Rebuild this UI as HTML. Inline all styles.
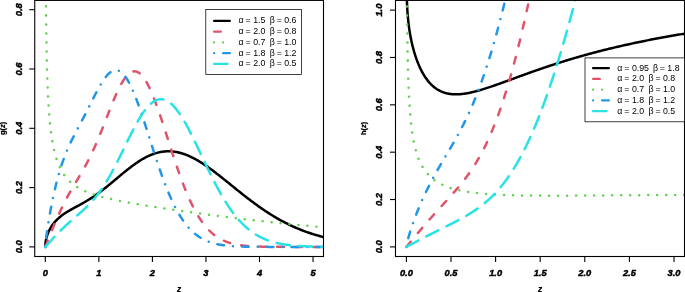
<!DOCTYPE html>
<html><head><meta charset="utf-8"><title>g(z) and h(z)</title>
<style>html,body{margin:0;padding:0;background:#fff}svg{display:block}</style></head>
<body>
<svg width="685" height="292" viewBox="0 0 685 292">
<defs><clipPath id="cl"><rect x="34.75" y="0.4" width="288.75" height="256.1"/></clipPath><clipPath id="cr"><rect x="395.5" y="0.4" width="289.0" height="256.1"/></clipPath></defs>
<rect width="685" height="292" fill="#fff"/>
<g clip-path="url(#cl)">
<path d="M45.30 246.90L45.30 246.54L45.31 246.18L45.32 245.82L45.33 245.47L45.35 245.11L45.37 244.75L45.39 244.39L45.42 244.03L45.45 243.67L45.48 243.31L45.52 242.96L45.56 242.60L45.61 242.24L45.66 241.88L45.71 241.52L45.76 241.16L45.82 240.81L45.89 240.45L45.96 240.09L46.03 239.73L46.10 239.38L46.18 239.02L46.26 238.66L46.35 238.31L46.44 237.95L46.53 237.59L46.62 237.24L46.72 236.88L46.83 236.53L46.93 236.17L47.05 235.82L47.16 235.47L47.28 235.11L47.40 234.76L47.53 234.41L47.65 234.06L47.79 233.71L47.92 233.36L48.06 233.01L48.21 232.66L48.35 232.31L48.50 231.97L48.66 231.62L48.82 231.28L48.98 230.93L49.14 230.59L49.31 230.25L49.48 229.90L49.66 229.56L49.84 229.22L50.02 228.89L50.21 228.55L50.40 228.21L50.60 227.88L50.79 227.55L51.00 227.22L51.20 226.88L51.41 226.56L51.62 226.23L51.84 225.90L52.06 225.58L52.28 225.25L52.51 224.93L52.74 224.61L52.97 224.29L53.21 223.98L53.45 223.66L53.70 223.35L53.95 223.04L54.20 222.73L54.46 222.42L54.72 222.11L54.98 221.81L55.25 221.51L55.52 221.21L55.79 220.91L56.07 220.61L56.35 220.32L56.64 220.02L56.92 219.73L57.22 219.44L57.51 219.16L57.81 218.87L58.12 218.59L58.42 218.30L58.73 218.03L59.05 217.75L59.37 217.47L59.69 217.20L60.01 216.93L60.34 216.65L60.67 216.39L61.01 216.12L61.35 215.85L61.69 215.59L62.04 215.33L62.39 215.07L62.74 214.81L63.10 214.55L63.46 214.30L63.83 214.04L64.20 213.79L64.57 213.54L64.95 213.29L65.33 213.04L65.71 212.79L66.10 212.54L66.49 212.30L66.88 212.05L67.28 211.81L67.68 211.56L68.08 211.32L68.49 211.08L68.91 210.84L69.32 210.59L69.74 210.35L70.16 210.11L70.59 209.87L71.02 209.62L71.46 209.38L71.89 209.14L72.34 208.89L72.78 208.65L73.23 208.40L73.68 208.16L74.14 207.91L74.60 207.66L75.06 207.41L75.53 207.16L76.00 206.90L76.47 206.65L76.95 206.39L77.43 206.13L77.91 205.87L78.40 205.60L78.90 205.34L79.39 205.07L79.89 204.79L80.39 204.52L80.90 204.24L81.41 203.95L81.93 203.67L82.44 203.37L82.96 203.08L83.49 202.78L84.02 202.48L84.55 202.17L85.09 201.86L85.63 201.54L86.17 201.22L86.72 200.90L87.27 200.56L87.82 200.23L88.38 199.89L88.94 199.54L89.50 199.19L90.07 198.83L90.64 198.46L91.22 198.09L91.80 197.71L92.38 197.33L92.97 196.94L93.56 196.55L94.15 196.14L94.75 195.74L95.35 195.32L95.96 194.90L96.57 194.47L97.18 194.04L97.79 193.59L98.41 193.15L99.04 192.69L99.66 192.23L100.29 191.76L100.93 191.28L101.56 190.80L102.21 190.31L102.85 189.82L103.50 189.31L104.15 188.81L104.81 188.29L105.47 187.77L106.13 187.24L106.80 186.71L107.47 186.17L108.14 185.62L108.82 185.07L109.50 184.51L110.18 183.95L110.87 183.38L111.56 182.81L112.26 182.23L112.96 181.65L113.66 181.06L114.37 180.47L115.08 179.88L115.79 179.28L116.51 178.68L117.23 178.07L117.96 177.46L118.68 176.85L119.42 176.24L120.15 175.63L120.89 175.01L121.63 174.40L122.38 173.78L123.13 173.16L123.88 172.54L124.64 171.92L125.40 171.31L126.17 170.69L126.94 170.08L127.71 169.47L128.48 168.86L129.26 168.25L130.05 167.65L130.83 167.05L131.62 166.45L132.42 165.86L133.21 165.27L134.01 164.69L134.82 164.12L135.63 163.55L136.44 162.99L137.25 162.44L138.07 161.89L138.90 161.35L139.72 160.83L140.55 160.31L141.39 159.80L142.22 159.30L143.07 158.81L143.91 158.34L144.76 157.87L145.61 157.42L146.47 156.98L147.32 156.55L148.19 156.14L149.05 155.74L149.92 155.36L150.80 154.99L151.67 154.63L152.56 154.29L153.44 153.97L154.33 153.67L155.22 153.38L156.12 153.11L157.01 152.85L157.92 152.62L158.82 152.40L159.73 152.20L160.65 152.02L161.56 151.86L162.49 151.72L163.41 151.60L164.34 151.50L165.27 151.42L166.21 151.36L167.14 151.32L168.09 151.30L169.03 151.30L169.98 151.32L170.94 151.37L171.89 151.44L172.86 151.53L173.82 151.64L174.79 151.77L175.76 151.92L176.74 152.10L177.71 152.29L178.70 152.51L179.68 152.75L180.67 153.02L181.67 153.30L182.66 153.61L183.66 153.94L184.67 154.29L185.68 154.66L186.69 155.05L187.70 155.46L188.72 155.89L189.75 156.35L190.77 156.82L191.80 157.31L192.84 157.83L193.87 158.36L194.91 158.91L195.96 159.48L197.01 160.07L198.06 160.68L199.11 161.31L200.17 161.95L201.23 162.61L202.30 163.29L203.37 163.98L204.44 164.69L205.52 165.41L206.60 166.15L207.69 166.90L208.77 167.67L209.87 168.45L210.96 169.25L212.06 170.05L213.16 170.87L214.27 171.70L215.38 172.55L216.49 173.40L217.61 174.26L218.73 175.13L219.85 176.01L220.98 176.90L222.11 177.80L223.25 178.70L224.39 179.61L225.53 180.53L226.68 181.45L227.83 182.38L228.98 183.31L230.14 184.25L231.30 185.19L232.46 186.13L233.63 187.07L234.80 188.02L235.98 188.97L237.16 189.92L238.34 190.87L239.52 191.82L240.71 192.77L241.91 193.72L243.10 194.66L244.30 195.61L245.51 196.55L246.72 197.49L247.93 198.42L249.14 199.35L250.36 200.28L251.58 201.20L252.81 202.12L254.04 203.03L255.27 203.93L256.51 204.83L257.75 205.72L259.00 206.61L260.24 207.49L261.49 208.36L262.75 209.22L264.01 210.07L265.27 210.92L266.54 211.75L267.81 212.58L269.08 213.40L270.36 214.20L271.64 215.00L272.92 215.79L274.21 216.57L275.50 217.33L276.80 218.09L278.09 218.83L279.40 219.57L280.70 220.29L282.01 221.00L283.33 221.70L284.64 222.39L285.96 223.07L287.29 223.73L288.62 224.39L289.95 225.03L291.28 225.66L292.62 226.28L293.96 226.89L295.31 227.48L296.66 228.06L298.01 228.64L299.37 229.20L300.73 229.74L302.09 230.28L303.46 230.80L304.83 231.32L306.21 231.82L307.59 232.31L308.97 232.78L310.35 233.25L311.74 233.71L313.14 234.15L314.53 234.58L315.93 235.01L317.34 235.42L318.75 235.82L320.16 236.21L321.57 236.59L322.99 236.96L324.41 237.32L325.84 237.67L327.27 238.01L328.70 238.34L330.14 238.66L331.58 238.97L333.02 239.27L334.47 239.56" fill="none" stroke="#000000" stroke-width="2.5" stroke-linejoin="round" stroke-linecap="round"/>
<path d="M45.30 246.90L45.30 246.90L45.31 246.88L45.32 246.86L45.33 246.83L45.35 246.79L45.37 246.73L45.39 246.67L45.42 246.61L45.45 246.53L45.48 246.44L45.52 246.34L45.56 246.24L45.61 246.12L45.66 246.00L45.71 245.87L45.76 245.72L45.82 245.57L45.89 245.41L45.96 245.24L46.03 245.06L46.10 244.87L46.18 244.68L46.26 244.47L46.35 244.25L46.44 244.03L46.53 243.79L46.62 243.55L46.72 243.30L46.83 243.04L46.93 242.77L47.05 242.49L47.16 242.20L47.28 241.90L47.40 241.59L47.53 241.28L47.65 240.95L47.79 240.62L47.92 240.27L48.06 239.92L48.21 239.56L48.35 239.19L48.50 238.81L48.66 238.43L48.82 238.03L48.98 237.62L49.14 237.21L49.31 236.79L49.48 236.36L49.66 235.92L49.84 235.47L50.02 235.02L50.21 234.55L50.40 234.08L50.60 233.60L50.79 233.11L51.00 232.61L51.20 232.11L51.41 231.59L51.62 231.07L51.84 230.54L52.06 230.01L52.28 229.46L52.51 228.91L52.74 228.35L52.97 227.79L53.21 227.21L53.45 226.63L53.70 226.05L53.95 225.45L54.20 224.85L54.46 224.24L54.72 223.63L54.98 223.01L55.25 222.39L55.52 221.75L55.79 221.12L56.07 220.47L56.35 219.83L56.64 219.17L56.92 218.51L57.22 217.85L57.51 217.18L57.81 216.51L58.12 215.83L58.42 215.15L58.73 214.46L59.05 213.77L59.37 213.08L59.69 212.38L60.01 211.68L60.34 210.98L60.67 210.27L61.01 209.56L61.35 208.85L61.69 208.13L62.04 207.42L62.39 206.70L62.74 205.97L63.10 205.25L63.46 204.52L63.83 203.80L64.20 203.07L64.57 202.33L64.95 201.60L65.33 200.87L65.71 200.13L66.10 199.40L66.49 198.66L66.88 197.92L67.28 197.18L67.68 196.44L68.08 195.70L68.49 194.95L68.91 194.21L69.32 193.46L69.74 192.71L70.16 191.97L70.59 191.21L71.02 190.46L71.46 189.71L71.89 188.95L72.34 188.19L72.78 187.43L73.23 186.67L73.68 185.90L74.14 185.13L74.60 184.35L75.06 183.57L75.53 182.79L76.00 182.00L76.47 181.21L76.95 180.41L77.43 179.60L77.91 178.79L78.40 177.97L78.90 177.14L79.39 176.31L79.89 175.46L80.39 174.60L80.90 173.74L81.41 172.86L81.93 171.97L82.44 171.07L82.96 170.16L83.49 169.23L84.02 168.29L84.55 167.33L85.09 166.36L85.63 165.37L86.17 164.37L86.72 163.34L87.27 162.30L87.82 161.24L88.38 160.16L88.94 159.06L89.50 157.94L90.07 156.79L90.64 155.63L91.22 154.44L91.80 153.23L92.38 151.99L92.97 150.74L93.56 149.45L94.15 148.15L94.75 146.82L95.35 145.46L95.96 144.08L96.57 142.68L97.18 141.25L97.79 139.80L98.41 138.32L99.04 136.83L99.66 135.30L100.29 133.76L100.93 132.19L101.56 130.61L102.21 129.00L102.85 127.37L103.50 125.73L104.15 124.07L104.81 122.40L105.47 120.71L106.13 119.01L106.80 117.30L107.47 115.58L108.14 113.85L108.82 112.13L109.50 110.39L110.18 108.66L110.87 106.93L111.56 105.21L112.26 103.50L112.96 101.79L113.66 100.10L114.37 98.43L115.08 96.77L115.79 95.14L116.51 93.53L117.23 91.95L117.96 90.41L118.68 88.90L119.42 87.42L120.15 86.00L120.89 84.61L121.63 83.28L122.38 82.00L123.13 80.77L123.88 79.61L124.64 78.51L125.40 77.47L126.17 76.50L126.94 75.61L127.71 74.79L128.48 74.05L129.26 73.40L130.05 72.82L130.83 72.34L131.62 71.95L132.42 71.64L133.21 71.43L134.01 71.32L134.82 71.31L135.63 71.40L136.44 71.58L137.25 71.88L138.07 72.27L138.90 72.77L139.72 73.38L140.55 74.09L141.39 74.91L142.22 75.83L143.07 76.86L143.91 77.99L144.76 79.23L145.61 80.57L146.47 82.01L147.32 83.55L148.19 85.19L149.05 86.93L149.92 88.76L150.80 90.68L151.67 92.69L152.56 94.78L153.44 96.96L154.33 99.22L155.22 101.55L156.12 103.96L157.01 106.43L157.92 108.96L158.82 111.56L159.73 114.21L160.65 116.91L161.56 119.66L162.49 122.45L163.41 125.28L164.34 128.15L165.27 131.04L166.21 133.95L167.14 136.88L168.09 139.83L169.03 142.79L169.98 145.75L170.94 148.71L171.89 151.67L172.86 154.62L173.82 157.56L174.79 160.48L175.76 163.38L176.74 166.25L177.71 169.10L178.70 171.91L179.68 174.69L180.67 177.43L181.67 180.13L182.66 182.78L183.66 185.39L184.67 187.95L185.68 190.45L186.69 192.90L187.70 195.29L188.72 197.63L189.75 199.90L190.77 202.11L191.80 204.27L192.84 206.36L193.87 208.38L194.91 210.34L195.96 212.24L197.01 214.07L198.06 215.84L199.11 217.54L200.17 219.17L201.23 220.75L202.30 222.26L203.37 223.70L204.44 225.09L205.52 226.41L206.60 227.68L207.69 228.89L208.77 230.04L209.87 231.13L210.96 232.17L212.06 233.15L213.16 234.08L214.27 234.97L215.38 235.80L216.49 236.59L217.61 237.34L218.73 238.03L219.85 238.69L220.98 239.31L222.11 239.89L223.25 240.43L224.39 240.94L225.53 241.42L226.68 241.86L227.83 242.27L228.98 242.65L230.14 243.01L231.30 243.34L232.46 243.65L233.63 243.93L234.80 244.20L235.98 244.44L237.16 244.66L238.34 244.87L239.52 245.06L240.71 245.23L241.91 245.39L243.10 245.54L244.30 245.67L245.51 245.79L246.72 245.90L247.93 246.00L249.14 246.09L250.36 246.18L251.58 246.25L252.81 246.32L254.04 246.38L255.27 246.44L256.51 246.49L257.75 246.54L259.00 246.58L260.24 246.61L261.49 246.65L262.75 246.68L264.01 246.70L265.27 246.73L266.54 246.75L267.81 246.76L269.08 246.78L270.36 246.80L271.64 246.81L272.92 246.82L274.21 246.83L275.50 246.84L276.80 246.85L278.09 246.85L279.40 246.86L280.70 246.87L282.01 246.87L283.33 246.87L284.64 246.88L285.96 246.88L287.29 246.88L288.62 246.89L289.95 246.89L291.28 246.89L292.62 246.89L293.96 246.89L295.31 246.89L296.66 246.89L298.01 246.90L299.37 246.90L300.73 246.90L302.09 246.90L303.46 246.90L304.83 246.90L306.21 246.90L307.59 246.90L308.97 246.90L310.35 246.90L311.74 246.90L313.14 246.90L314.53 246.90L315.93 246.90L317.34 246.90L318.75 246.90L320.16 246.90L321.57 246.90L322.99 246.90L324.41 246.90L325.84 246.90L327.27 246.90L328.70 246.90L330.14 246.90L331.58 246.90L333.02 246.90L334.47 246.90" fill="none" stroke="#DF536B" stroke-width="2.5" stroke-linejoin="round" stroke-linecap="round" stroke-dasharray="6.75 11.25" stroke-dashoffset="0"/>
<path d="M45.66 -55.50L45.71 -42.42L45.76 -30.62L45.82 -19.92L45.89 -10.15L45.96 -1.19L46.03 7.07L46.10 14.72L46.18 21.82L46.26 28.45L46.35 34.64L46.44 40.45L46.53 45.91L46.62 51.06L46.72 55.92L46.83 60.52L46.93 64.89L47.05 69.03L47.16 72.98L47.28 76.73L47.40 80.32L47.53 83.75L47.65 87.03L47.79 90.17L47.92 93.18L48.06 96.07L48.21 98.84L48.35 101.51L48.50 104.08L48.66 106.56L48.82 108.95L48.98 111.25L49.14 113.47L49.31 115.62L49.48 117.70L49.66 119.70L49.84 121.65L50.02 123.53L50.21 125.35L50.40 127.12L50.60 128.83L50.79 130.49L51.00 132.10L51.20 133.67L51.41 135.19L51.62 136.67L51.84 138.11L52.06 139.50L52.28 140.86L52.51 142.18L52.74 143.47L52.97 144.72L53.21 145.94L53.45 147.13L53.70 148.29L53.95 149.42L54.20 150.52L54.46 151.59L54.72 152.63L54.98 153.65L55.25 154.65L55.52 155.62L55.79 156.57L56.07 157.49L56.35 158.40L56.64 159.28L56.92 160.14L57.22 160.98L57.51 161.81L57.81 162.61L58.12 163.40L58.42 164.16L58.73 164.91L59.05 165.65L59.37 166.37L59.69 167.07L60.01 167.76L60.34 168.43L60.67 169.09L61.01 169.73L61.35 170.36L61.69 170.97L62.04 171.58L62.39 172.17L62.74 172.75L63.10 173.31L63.46 173.87L63.83 174.41L64.20 174.94L64.57 175.47L64.95 175.98L65.33 176.48L65.71 176.97L66.10 177.45L66.49 177.92L66.88 178.38L67.28 178.84L67.68 179.28L68.08 179.72L68.49 180.14L68.91 180.56L69.32 180.97L69.74 181.38L70.16 181.78L70.59 182.16L71.02 182.55L71.46 182.92L71.89 183.29L72.34 183.65L72.78 184.00L73.23 184.35L73.68 184.70L74.14 185.03L74.60 185.36L75.06 185.69L75.53 186.01L76.00 186.32L76.47 186.63L76.95 186.93L77.43 187.23L77.91 187.52L78.40 187.81L78.90 188.10L79.39 188.38L79.89 188.65L80.39 188.92L80.90 189.19L81.41 189.45L81.93 189.71L82.44 189.96L82.96 190.21L83.49 190.46L84.02 190.71L84.55 190.95L85.09 191.18L85.63 191.42L86.17 191.65L86.72 191.87L87.27 192.10L87.82 192.32L88.38 192.54L88.94 192.75L89.50 192.96L90.07 193.17L90.64 193.38L91.22 193.59L91.80 193.79L92.38 193.99L92.97 194.19L93.56 194.38L94.15 194.57L94.75 194.77L95.35 194.95L95.96 195.14L96.57 195.33L97.18 195.51L97.79 195.69L98.41 195.87L99.04 196.05L99.66 196.23L100.29 196.40L100.93 196.58L101.56 196.75L102.21 196.92L102.85 197.09L103.50 197.25L104.15 197.42L104.81 197.59L105.47 197.75L106.13 197.91L106.80 198.08L107.47 198.24L108.14 198.40L108.82 198.55L109.50 198.71L110.18 198.87L110.87 199.02L111.56 199.18L112.26 199.33L112.96 199.49L113.66 199.64L114.37 199.79L115.08 199.94L115.79 200.09L116.51 200.24L117.23 200.39L117.96 200.54L118.68 200.69L119.42 200.83L120.15 200.98L120.89 201.13L121.63 201.27L122.38 201.42L123.13 201.56L123.88 201.71L124.64 201.85L125.40 201.99L126.17 202.14L126.94 202.28L127.71 202.42L128.48 202.57L129.26 202.71L130.05 202.85L130.83 202.99L131.62 203.13L132.42 203.27L133.21 203.42L134.01 203.56L134.82 203.70L135.63 203.84L136.44 203.98L137.25 204.12L138.07 204.26L138.90 204.40L139.72 204.54L140.55 204.68L141.39 204.82L142.22 204.96L143.07 205.10L143.91 205.24L144.76 205.38L145.61 205.52L146.47 205.66L147.32 205.80L148.19 205.94L149.05 206.08L149.92 206.22L150.80 206.36L151.67 206.50L152.56 206.64L153.44 206.78L154.33 206.92L155.22 207.06L156.12 207.20L157.01 207.34L157.92 207.48L158.82 207.62L159.73 207.76L160.65 207.90L161.56 208.04L162.49 208.18L163.41 208.32L164.34 208.46L165.27 208.60L166.21 208.75L167.14 208.89L168.09 209.03L169.03 209.17L169.98 209.31L170.94 209.45L171.89 209.59L172.86 209.74L173.82 209.88L174.79 210.02L175.76 210.16L176.74 210.30L177.71 210.45L178.70 210.59L179.68 210.73L180.67 210.87L181.67 211.02L182.66 211.16L183.66 211.30L184.67 211.44L185.68 211.59L186.69 211.73L187.70 211.87L188.72 212.02L189.75 212.16L190.77 212.30L191.80 212.45L192.84 212.59L193.87 212.73L194.91 212.88L195.96 213.02L197.01 213.16L198.06 213.31L199.11 213.45L200.17 213.59L201.23 213.74L202.30 213.88L203.37 214.03L204.44 214.17L205.52 214.31L206.60 214.46L207.69 214.60L208.77 214.75L209.87 214.89L210.96 215.03L212.06 215.18L213.16 215.32L214.27 215.47L215.38 215.61L216.49 215.75L217.61 215.90L218.73 216.04L219.85 216.18L220.98 216.33L222.11 216.47L223.25 216.62L224.39 216.76L225.53 216.90L226.68 217.05L227.83 217.19L228.98 217.33L230.14 217.48L231.30 217.62L232.46 217.76L233.63 217.91L234.80 218.05L235.98 218.19L237.16 218.33L238.34 218.48L239.52 218.62L240.71 218.76L241.91 218.90L243.10 219.04L244.30 219.19L245.51 219.33L246.72 219.47L247.93 219.61L249.14 219.75L250.36 219.89L251.58 220.03L252.81 220.18L254.04 220.32L255.27 220.46L256.51 220.60L257.75 220.74L259.00 220.88L260.24 221.02L261.49 221.16L262.75 221.29L264.01 221.43L265.27 221.57L266.54 221.71L267.81 221.85L269.08 221.99L270.36 222.12L271.64 222.26L272.92 222.40L274.21 222.54L275.50 222.67L276.80 222.81L278.09 222.95L279.40 223.08L280.70 223.22L282.01 223.35L283.33 223.49L284.64 223.62L285.96 223.76L287.29 223.89L288.62 224.03L289.95 224.16L291.28 224.29L292.62 224.42L293.96 224.56L295.31 224.69L296.66 224.82L298.01 224.95L299.37 225.08L300.73 225.22L302.09 225.35L303.46 225.48L304.83 225.61L306.21 225.74L307.59 225.87L308.97 225.99L310.35 226.12L311.74 226.25L313.14 226.38L314.53 226.51L315.93 226.63L317.34 226.76L318.75 226.89L320.16 227.01L321.57 227.14L322.99 227.26L324.41 227.39L325.84 227.51L327.27 227.63L328.70 227.76L330.14 227.88L331.58 228.00L333.02 228.13L334.47 228.25" fill="none" stroke="#61D04F" stroke-width="2.5" stroke-linejoin="round" stroke-linecap="round" stroke-dasharray="0.009 9.0" stroke-dashoffset="1.2"/>
<path d="M45.30 246.90L45.30 246.84L45.31 246.71L45.32 246.53L45.33 246.31L45.35 246.06L45.37 245.78L45.39 245.46L45.42 245.12L45.45 244.75L45.48 244.36L45.52 243.94L45.56 243.50L45.61 243.04L45.66 242.55L45.71 242.04L45.76 241.51L45.82 240.96L45.89 240.40L45.96 239.81L46.03 239.20L46.10 238.58L46.18 237.94L46.26 237.28L46.35 236.60L46.44 235.91L46.53 235.20L46.62 234.47L46.72 233.73L46.83 232.97L46.93 232.20L47.05 231.41L47.16 230.61L47.28 229.80L47.40 228.96L47.53 228.12L47.65 227.26L47.79 226.39L47.92 225.51L48.06 224.61L48.21 223.70L48.35 222.78L48.50 221.85L48.66 220.91L48.82 219.95L48.98 218.98L49.14 218.01L49.31 217.02L49.48 216.02L49.66 215.02L49.84 214.00L50.02 212.98L50.21 211.95L50.40 210.90L50.60 209.86L50.79 208.80L51.00 207.73L51.20 206.66L51.41 205.59L51.62 204.50L51.84 203.41L52.06 202.32L52.28 201.22L52.51 200.12L52.74 199.01L52.97 197.90L53.21 196.78L53.45 195.66L53.70 194.54L53.95 193.42L54.20 192.30L54.46 191.17L54.72 190.04L54.98 188.92L55.25 187.79L55.52 186.66L55.79 185.53L56.07 184.41L56.35 183.28L56.64 182.16L56.92 181.04L57.22 179.93L57.51 178.81L57.81 177.70L58.12 176.59L58.42 175.49L58.73 174.39L59.05 173.30L59.37 172.21L59.69 171.12L60.01 170.05L60.34 168.97L60.67 167.91L61.01 166.85L61.35 165.79L61.69 164.75L62.04 163.71L62.39 162.67L62.74 161.65L63.10 160.63L63.46 159.62L63.83 158.61L64.20 157.61L64.57 156.62L64.95 155.64L65.33 154.67L65.71 153.70L66.10 152.74L66.49 151.78L66.88 150.83L67.28 149.89L67.68 148.96L68.08 148.03L68.49 147.10L68.91 146.18L69.32 145.27L69.74 144.36L70.16 143.45L70.59 142.55L71.02 141.66L71.46 140.76L71.89 139.87L72.34 138.98L72.78 138.09L73.23 137.20L73.68 136.31L74.14 135.42L74.60 134.53L75.06 133.63L75.53 132.74L76.00 131.84L76.47 130.94L76.95 130.03L77.43 129.12L77.91 128.21L78.40 127.28L78.90 126.36L79.39 125.42L79.89 124.48L80.39 123.53L80.90 122.57L81.41 121.60L81.93 120.62L82.44 119.63L82.96 118.63L83.49 117.63L84.02 116.61L84.55 115.58L85.09 114.54L85.63 113.49L86.17 112.42L86.72 111.35L87.27 110.27L87.82 109.17L88.38 108.07L88.94 106.96L89.50 105.83L90.07 104.70L90.64 103.57L91.22 102.42L91.80 101.27L92.38 100.11L92.97 98.95L93.56 97.79L94.15 96.62L94.75 95.46L95.35 94.29L95.96 93.13L96.57 91.98L97.18 90.83L97.79 89.68L98.41 88.55L99.04 87.43L99.66 86.32L100.29 85.23L100.93 84.15L101.56 83.10L102.21 82.07L102.85 81.07L103.50 80.09L104.15 79.14L104.81 78.23L105.47 77.35L106.13 76.51L106.80 75.71L107.47 74.95L108.14 74.24L108.82 73.57L109.50 72.96L110.18 72.40L110.87 71.90L111.56 71.45L112.26 71.07L112.96 70.75L113.66 70.49L114.37 70.30L115.08 70.18L115.79 70.14L116.51 70.16L117.23 70.27L117.96 70.45L118.68 70.70L119.42 71.04L120.15 71.46L120.89 71.96L121.63 72.54L122.38 73.21L123.13 73.96L123.88 74.80L124.64 75.72L125.40 76.73L126.17 77.82L126.94 79.00L127.71 80.26L128.48 81.61L129.26 83.03L130.05 84.54L130.83 86.13L131.62 87.80L132.42 89.55L133.21 91.37L134.01 93.26L134.82 95.23L135.63 97.26L136.44 99.36L137.25 101.53L138.07 103.75L138.90 106.04L139.72 108.37L140.55 110.77L141.39 113.21L142.22 115.69L143.07 118.22L143.91 120.79L144.76 123.39L145.61 126.02L146.47 128.68L147.32 131.36L148.19 134.07L149.05 136.79L149.92 139.53L150.80 142.27L151.67 145.02L152.56 147.77L153.44 150.52L154.33 153.26L155.22 156.00L156.12 158.72L157.01 161.43L157.92 164.12L158.82 166.79L159.73 169.43L160.65 172.04L161.56 174.63L162.49 177.18L163.41 179.69L164.34 182.17L165.27 184.61L166.21 187.00L167.14 189.35L168.09 191.65L169.03 193.91L169.98 196.12L170.94 198.27L171.89 200.38L172.86 202.43L173.82 204.42L174.79 206.37L175.76 208.25L176.74 210.08L177.71 211.86L178.70 213.58L179.68 215.24L180.67 216.85L181.67 218.40L182.66 219.89L183.66 221.33L184.67 222.72L185.68 224.05L186.69 225.33L187.70 226.55L188.72 227.72L189.75 228.85L190.77 229.92L191.80 230.94L192.84 231.92L193.87 232.85L194.91 233.73L195.96 234.57L197.01 235.37L198.06 236.13L199.11 236.85L200.17 237.53L201.23 238.17L202.30 238.77L203.37 239.34L204.44 239.88L205.52 240.39L206.60 240.86L207.69 241.31L208.77 241.73L209.87 242.12L210.96 242.49L212.06 242.83L213.16 243.15L214.27 243.45L215.38 243.73L216.49 243.99L217.61 244.23L218.73 244.45L219.85 244.66L220.98 244.85L222.11 245.03L223.25 245.19L224.39 245.34L225.53 245.48L226.68 245.61L227.83 245.73L228.98 245.83L230.14 245.93L231.30 246.03L232.46 246.11L233.63 246.19L234.80 246.25L235.98 246.32L237.16 246.38L238.34 246.43L239.52 246.48L240.71 246.52L241.91 246.56L243.10 246.59L244.30 246.63L245.51 246.66L246.72 246.68L247.93 246.71L249.14 246.73L250.36 246.75L251.58 246.76L252.81 246.78L254.04 246.79L255.27 246.81L256.51 246.82L257.75 246.83L259.00 246.83L260.24 246.84L261.49 246.85L262.75 246.86L264.01 246.86L265.27 246.87L266.54 246.87L267.81 246.87L269.08 246.88L270.36 246.88L271.64 246.88L272.92 246.88L274.21 246.89L275.50 246.89L276.80 246.89L278.09 246.89L279.40 246.89L280.70 246.89L282.01 246.89L283.33 246.90L284.64 246.90L285.96 246.90L287.29 246.90L288.62 246.90L289.95 246.90L291.28 246.90L292.62 246.90L293.96 246.90L295.31 246.90L296.66 246.90L298.01 246.90L299.37 246.90L300.73 246.90L302.09 246.90L303.46 246.90L304.83 246.90L306.21 246.90L307.59 246.90L308.97 246.90L310.35 246.90L311.74 246.90L313.14 246.90L314.53 246.90L315.93 246.90L317.34 246.90L318.75 246.90L320.16 246.90L321.57 246.90L322.99 246.90L324.41 246.90L325.84 246.90L327.27 246.90L328.70 246.90L330.14 246.90L331.58 246.90L333.02 246.90L334.47 246.90" fill="none" stroke="#2297E6" stroke-width="2.5" stroke-linejoin="round" stroke-linecap="round" stroke-dasharray="0.009 9.0 6.75 9.0" stroke-dashoffset="0"/>
<path d="M45.30 246.90L45.30 246.90L45.31 246.89L45.32 246.88L45.33 246.87L45.35 246.85L45.37 246.83L45.39 246.80L45.42 246.77L45.45 246.74L45.48 246.70L45.52 246.66L45.56 246.61L45.61 246.56L45.66 246.51L45.71 246.45L45.76 246.39L45.82 246.32L45.89 246.25L45.96 246.17L46.03 246.10L46.10 246.01L46.18 245.93L46.26 245.84L46.35 245.74L46.44 245.64L46.53 245.54L46.62 245.43L46.72 245.32L46.83 245.21L46.93 245.09L47.05 244.97L47.16 244.84L47.28 244.71L47.40 244.58L47.53 244.44L47.65 244.30L47.79 244.15L47.92 244.00L48.06 243.84L48.21 243.69L48.35 243.52L48.50 243.36L48.66 243.19L48.82 243.01L48.98 242.84L49.14 242.65L49.31 242.47L49.48 242.28L49.66 242.09L49.84 241.89L50.02 241.69L50.21 241.48L50.40 241.28L50.60 241.06L50.79 240.85L51.00 240.63L51.20 240.40L51.41 240.18L51.62 239.95L51.84 239.71L52.06 239.47L52.28 239.23L52.51 238.99L52.74 238.74L52.97 238.49L53.21 238.23L53.45 237.97L53.70 237.71L53.95 237.44L54.20 237.18L54.46 236.90L54.72 236.63L54.98 236.35L55.25 236.07L55.52 235.78L55.79 235.49L56.07 235.20L56.35 234.91L56.64 234.61L56.92 234.31L57.22 234.01L57.51 233.70L57.81 233.40L58.12 233.09L58.42 232.77L58.73 232.46L59.05 232.14L59.37 231.82L59.69 231.49L60.01 231.17L60.34 230.84L60.67 230.51L61.01 230.17L61.35 229.84L61.69 229.50L62.04 229.16L62.39 228.82L62.74 228.48L63.10 228.13L63.46 227.78L63.83 227.44L64.20 227.08L64.57 226.73L64.95 226.38L65.33 226.02L65.71 225.66L66.10 225.30L66.49 224.94L66.88 224.58L67.28 224.21L67.68 223.84L68.08 223.47L68.49 223.10L68.91 222.73L69.32 222.36L69.74 221.98L70.16 221.60L70.59 221.23L71.02 220.84L71.46 220.46L71.89 220.08L72.34 219.69L72.78 219.30L73.23 218.91L73.68 218.51L74.14 218.12L74.60 217.72L75.06 217.31L75.53 216.91L76.00 216.50L76.47 216.09L76.95 215.67L77.43 215.26L77.91 214.83L78.40 214.41L78.90 213.98L79.39 213.54L79.89 213.10L80.39 212.66L80.90 212.21L81.41 211.75L81.93 211.29L82.44 210.82L82.96 210.35L83.49 209.86L84.02 209.38L84.55 208.88L85.09 208.37L85.63 207.86L86.17 207.34L86.72 206.81L87.27 206.27L87.82 205.72L88.38 205.16L88.94 204.58L89.50 204.00L90.07 203.40L90.64 202.80L91.22 202.18L91.80 201.54L92.38 200.89L92.97 200.23L93.56 199.55L94.15 198.86L94.75 198.15L95.35 197.42L95.96 196.68L96.57 195.92L97.18 195.14L97.79 194.35L98.41 193.53L99.04 192.70L99.66 191.85L100.29 190.97L100.93 190.08L101.56 189.16L102.21 188.23L102.85 187.27L103.50 186.29L104.15 185.29L104.81 184.26L105.47 183.22L106.13 182.15L106.80 181.06L107.47 179.94L108.14 178.80L108.82 177.64L109.50 176.46L110.18 175.25L110.87 174.02L111.56 172.77L112.26 171.50L112.96 170.20L113.66 168.88L114.37 167.54L115.08 166.18L115.79 164.80L116.51 163.40L117.23 161.98L117.96 160.55L118.68 159.09L119.42 157.62L120.15 156.13L120.89 154.63L121.63 153.12L122.38 151.59L123.13 150.05L123.88 148.50L124.64 146.95L125.40 145.38L126.17 143.81L126.94 142.24L127.71 140.66L128.48 139.09L129.26 137.51L130.05 135.94L130.83 134.37L131.62 132.81L132.42 131.26L133.21 129.72L134.01 128.19L134.82 126.67L135.63 125.18L136.44 123.70L137.25 122.25L138.07 120.81L138.90 119.41L139.72 118.03L140.55 116.68L141.39 115.37L142.22 114.09L143.07 112.85L143.91 111.65L144.76 110.49L145.61 109.38L146.47 108.31L147.32 107.29L148.19 106.33L149.05 105.41L149.92 104.55L150.80 103.75L151.67 103.01L152.56 102.33L153.44 101.71L154.33 101.16L155.22 100.67L156.12 100.25L157.01 99.90L157.92 99.62L158.82 99.41L159.73 99.28L160.65 99.22L161.56 99.23L162.49 99.32L163.41 99.48L164.34 99.73L165.27 100.05L166.21 100.44L167.14 100.92L168.09 101.47L169.03 102.10L169.98 102.80L170.94 103.58L171.89 104.44L172.86 105.37L173.82 106.38L174.79 107.46L175.76 108.61L176.74 109.83L177.71 111.13L178.70 112.48L179.68 113.91L180.67 115.40L181.67 116.95L182.66 118.56L183.66 120.23L184.67 121.95L185.68 123.73L186.69 125.55L187.70 127.43L188.72 129.35L189.75 131.32L190.77 133.32L191.80 135.36L192.84 137.44L193.87 139.55L194.91 141.68L195.96 143.85L197.01 146.03L198.06 148.24L199.11 150.46L200.17 152.70L201.23 154.95L202.30 157.20L203.37 159.46L204.44 161.72L205.52 163.99L206.60 166.25L207.69 168.50L208.77 170.74L209.87 172.97L210.96 175.19L212.06 177.40L213.16 179.58L214.27 181.74L215.38 183.88L216.49 186.00L217.61 188.08L218.73 190.14L219.85 192.17L220.98 194.16L222.11 196.12L223.25 198.05L224.39 199.93L225.53 201.78L226.68 203.59L227.83 205.36L228.98 207.09L230.14 208.78L231.30 210.42L232.46 212.03L233.63 213.58L234.80 215.10L235.98 216.57L237.16 217.99L238.34 219.37L239.52 220.71L240.71 222.00L241.91 223.25L243.10 224.45L244.30 225.61L245.51 226.73L246.72 227.80L247.93 228.84L249.14 229.83L250.36 230.78L251.58 231.69L252.81 232.56L254.04 233.39L255.27 234.19L256.51 234.95L257.75 235.68L259.00 236.37L260.24 237.02L261.49 237.65L262.75 238.24L264.01 238.80L265.27 239.33L266.54 239.84L267.81 240.31L269.08 240.76L270.36 241.19L271.64 241.59L272.92 241.96L274.21 242.32L275.50 242.65L276.80 242.96L278.09 243.25L279.40 243.53L280.70 243.79L282.01 244.03L283.33 244.25L284.64 244.46L285.96 244.65L287.29 244.83L288.62 245.00L289.95 245.16L291.28 245.30L292.62 245.44L293.96 245.56L295.31 245.68L296.66 245.79L298.01 245.88L299.37 245.97L300.73 246.06L302.09 246.13L303.46 246.20L304.83 246.27L306.21 246.33L307.59 246.38L308.97 246.43L310.35 246.48L311.74 246.52L313.14 246.56L314.53 246.59L315.93 246.62L317.34 246.65L318.75 246.68L320.16 246.70L321.57 246.72L322.99 246.74L324.41 246.76L325.84 246.77L327.27 246.79L328.70 246.80L330.14 246.81L331.58 246.82L333.02 246.83L334.47 246.84" fill="none" stroke="#28E2E5" stroke-width="2.5" stroke-linejoin="round" stroke-linecap="round" stroke-dasharray="13.5 9.0" stroke-dashoffset="0"/>
</g>
<g clip-path="url(#cr)">
<path d="M406.41 -59.91L406.42 -47.66L406.43 -39.23L406.45 -32.83L406.47 -27.67L406.49 -23.35L406.52 -19.63L406.55 -16.36L406.58 -13.44L406.62 -10.80L406.67 -8.38L406.71 -6.14L406.76 -4.06L406.82 -2.11L406.87 -0.27L406.93 1.47L407.00 3.13L407.07 4.71L407.14 6.23L407.22 7.69L407.29 9.10L407.38 10.47L407.47 11.80L407.56 13.08L407.65 14.34L407.75 15.56L407.85 16.76L407.95 17.93L408.06 19.08L408.18 20.21L408.29 21.32L408.41 22.41L408.54 23.48L408.67 24.54L408.80 25.59L408.93 26.62L409.07 27.64L409.21 28.64L409.36 29.64L409.51 30.63L409.66 31.60L409.82 32.57L409.98 33.53L410.14 34.48L410.31 35.42L410.48 36.35L410.66 37.28L410.84 38.20L411.02 39.11L411.21 40.02L411.40 40.92L411.59 41.81L411.79 42.70L411.99 43.58L412.20 44.45L412.41 45.32L412.62 46.18L412.84 47.04L413.06 47.89L413.28 48.73L413.51 49.57L413.74 50.41L413.97 51.23L414.21 52.05L414.45 52.87L414.70 53.68L414.95 54.48L415.20 55.28L415.46 56.07L415.72 56.86L415.99 57.64L416.25 58.41L416.53 59.18L416.80 59.94L417.08 60.69L417.36 61.44L417.65 62.18L417.94 62.91L418.23 63.64L418.53 64.36L418.83 65.07L419.14 65.78L419.45 66.48L419.76 67.17L420.08 67.85L420.39 68.53L420.72 69.20L421.05 69.86L421.38 70.51L421.71 71.16L422.05 71.80L422.39 72.43L422.74 73.05L423.09 73.67L423.44 74.27L423.80 74.87L424.16 75.46L424.52 76.04L424.89 76.61L425.26 77.18L425.64 77.73L426.02 78.28L426.40 78.82L426.79 79.35L427.18 79.87L427.57 80.38L427.97 80.88L428.37 81.37L428.77 81.86L429.18 82.33L429.59 82.80L430.01 83.26L430.43 83.70L430.85 84.14L431.28 84.57L431.71 84.99L432.15 85.40L432.58 85.80L433.03 86.19L433.47 86.58L433.92 86.95L434.37 87.31L434.83 87.67L435.29 88.01L435.75 88.35L436.22 88.67L436.69 88.99L437.17 89.30L437.65 89.59L438.13 89.88L438.62 90.16L439.11 90.43L439.60 90.69L440.10 90.94L440.60 91.18L441.10 91.41L441.61 91.63L442.12 91.85L442.64 92.05L443.16 92.25L443.68 92.43L444.21 92.61L444.74 92.78L445.27 92.94L445.81 93.09L446.35 93.23L446.90 93.36L447.45 93.49L448.00 93.60L448.56 93.71L449.12 93.81L449.68 93.90L450.25 93.98L450.82 94.05L451.40 94.12L451.98 94.17L452.56 94.22L453.14 94.26L453.73 94.29L454.33 94.32L454.92 94.33L455.53 94.34L456.13 94.34L456.74 94.34L457.35 94.33L457.97 94.30L458.59 94.28L459.21 94.24L459.84 94.20L460.47 94.15L461.10 94.09L461.74 94.03L462.38 93.96L463.03 93.88L463.67 93.80L464.33 93.71L464.98 93.61L465.64 93.51L466.31 93.40L466.97 93.28L467.65 93.16L468.32 93.03L469.00 92.90L469.68 92.76L470.37 92.62L471.06 92.47L471.75 92.31L472.45 92.15L473.15 91.98L473.85 91.81L474.56 91.63L475.27 91.45L475.99 91.26L476.71 91.07L477.43 90.88L478.16 90.68L478.89 90.47L479.62 90.26L480.36 90.05L481.10 89.83L481.85 89.60L482.59 89.38L483.35 89.15L484.10 88.91L484.86 88.67L485.63 88.43L486.39 88.18L487.17 87.93L487.94 87.68L488.72 87.42L489.50 87.16L490.29 86.90L491.08 86.63L491.87 86.36L492.67 86.09L493.47 85.81L494.27 85.53L495.08 85.25L495.89 84.97L496.71 84.68L497.53 84.39L498.35 84.10L499.17 83.80L500.00 83.51L500.84 83.21L501.68 82.90L502.52 82.60L503.36 82.30L504.21 81.99L505.06 81.68L505.92 81.37L506.78 81.05L507.64 80.74L508.51 80.42L509.38 80.10L510.26 79.78L511.13 79.46L512.02 79.14L512.90 78.81L513.79 78.49L514.68 78.16L515.58 77.83L516.48 77.50L517.39 77.17L518.29 76.84L519.20 76.51L520.12 76.18L521.04 75.84L521.96 75.51L522.89 75.17L523.82 74.84L524.75 74.50L525.69 74.16L526.63 73.82L527.57 73.48L528.52 73.14L529.48 72.80L530.43 72.46L531.39 72.12L532.35 71.78L533.32 71.44L534.29 71.10L535.27 70.76L536.24 70.41L537.23 70.07L538.21 69.73L539.20 69.39L540.19 69.05L541.19 68.70L542.19 68.36L543.20 68.02L544.20 67.68L545.21 67.33L546.23 66.99L547.25 66.65L548.27 66.31L549.30 65.97L550.33 65.63L551.36 65.29L552.40 64.95L553.44 64.61L554.48 64.27L555.53 63.93L556.58 63.59L557.64 63.25L558.70 62.91L559.76 62.58L560.83 62.24L561.90 61.90L562.97 61.57L564.05 61.23L565.13 60.90L566.22 60.57L567.31 60.23L568.40 59.90L569.50 59.57L570.60 59.24L571.70 58.91L572.81 58.58L573.92 58.25L575.03 57.92L576.15 57.60L577.28 57.27L578.40 56.95L579.53 56.62L580.66 56.30L581.80 55.97L582.94 55.65L584.09 55.33L585.24 55.01L586.39 54.69L587.54 54.38L588.70 54.06L589.87 53.74L591.03 53.43L592.20 53.11L593.38 52.80L594.55 52.49L595.74 52.18L596.92 51.87L598.11 51.56L599.30 51.25L600.50 50.94L601.70 50.64L602.90 50.33L604.11 50.03L605.32 49.73L606.54 49.42L607.75 49.12L608.98 48.82L610.20 48.53L611.43 48.23L612.67 47.93L613.90 47.64L615.14 47.34L616.39 47.05L617.64 46.76L618.89 46.47L620.14 46.18L621.40 45.89L622.66 45.60L623.93 45.32L625.20 45.03L626.48 44.75L627.75 44.47L629.03 44.19L630.32 43.91L631.61 43.63L632.90 43.35L634.20 43.07L635.50 42.80L636.80 42.52L638.11 42.25L639.42 41.98L640.73 41.71L642.05 41.44L643.37 41.17L644.70 40.90L646.03 40.64L647.36 40.37L648.70 40.11L650.04 39.85L651.38 39.58L652.73 39.32L654.08 39.06L655.44 38.81L656.80 38.55L658.16 38.30L659.53 38.04L660.90 37.79L662.27 37.54L663.65 37.29L665.03 37.04L666.41 36.79L667.80 36.54L669.19 36.29L670.59 36.05L671.99 35.81L673.39 35.56L674.80 35.32L676.21 35.08L677.63 34.84L679.04 34.60L680.47 34.37L681.89 34.13L683.32 33.90L684.75 33.66L686.19 33.43L687.63 33.20L689.07 32.97L690.52 32.74L691.97 32.51L693.43 32.29L694.89 32.06L696.35 31.84L697.82 31.61L699.29 31.39L700.76 31.17" fill="none" stroke="#000000" stroke-width="2.5" stroke-linejoin="round" stroke-linecap="round"/>
<path d="M406.40 246.90L406.40 246.90L406.41 246.89L406.42 246.88L406.43 246.86L406.45 246.84L406.47 246.82L406.49 246.79L406.52 246.76L406.55 246.72L406.58 246.68L406.62 246.63L406.67 246.58L406.71 246.52L406.76 246.46L406.82 246.40L406.87 246.33L406.93 246.25L407.00 246.17L407.07 246.09L407.14 246.00L407.22 245.91L407.29 245.81L407.38 245.71L407.47 245.61L407.56 245.50L407.65 245.38L407.75 245.26L407.85 245.14L407.95 245.01L408.06 244.88L408.18 244.74L408.29 244.60L408.41 244.46L408.54 244.31L408.67 244.15L408.80 243.99L408.93 243.83L409.07 243.66L409.21 243.49L409.36 243.31L409.51 243.13L409.66 242.94L409.82 242.75L409.98 242.56L410.14 242.36L410.31 242.16L410.48 241.95L410.66 241.73L410.84 241.52L411.02 241.30L411.21 241.07L411.40 240.84L411.59 240.61L411.79 240.37L411.99 240.12L412.20 239.87L412.41 239.62L412.62 239.37L412.84 239.11L413.06 238.84L413.28 238.57L413.51 238.30L413.74 238.02L413.97 237.74L414.21 237.45L414.45 237.16L414.70 236.86L414.95 236.56L415.20 236.26L415.46 235.95L415.72 235.64L415.99 235.32L416.25 235.00L416.53 234.67L416.80 234.34L417.08 234.01L417.36 233.67L417.65 233.33L417.94 232.99L418.23 232.64L418.53 232.28L418.83 231.92L419.14 231.56L419.45 231.20L419.76 230.83L420.08 230.45L420.39 230.08L420.72 229.69L421.05 229.31L421.38 228.92L421.71 228.52L422.05 228.13L422.39 227.73L422.74 227.32L423.09 226.91L423.44 226.50L423.80 226.08L424.16 225.66L424.52 225.24L424.89 224.81L425.26 224.38L425.64 223.95L426.02 223.51L426.40 223.07L426.79 222.62L427.18 222.18L427.57 221.72L427.97 221.27L428.37 220.81L428.77 220.35L429.18 219.88L429.59 219.41L430.01 218.94L430.43 218.46L430.85 217.99L431.28 217.50L431.71 217.02L432.15 216.53L432.58 216.04L433.03 215.54L433.47 215.04L433.92 214.54L434.37 214.03L434.83 213.52L435.29 213.01L435.75 212.50L436.22 211.98L436.69 211.46L437.17 210.93L437.65 210.40L438.13 209.87L438.62 209.33L439.11 208.79L439.60 208.25L440.10 207.70L440.60 207.15L441.10 206.60L441.61 206.04L442.12 205.48L442.64 204.92L443.16 204.35L443.68 203.77L444.21 203.20L444.74 202.61L445.27 202.03L445.81 201.44L446.35 200.84L446.90 200.24L447.45 199.64L448.00 199.03L448.56 198.41L449.12 197.79L449.68 197.17L450.25 196.54L450.82 195.90L451.40 195.26L451.98 194.61L452.56 193.95L453.14 193.29L453.73 192.62L454.33 191.94L454.92 191.25L455.53 190.56L456.13 189.86L456.74 189.15L457.35 188.43L457.97 187.70L458.59 186.96L459.21 186.21L459.84 185.46L460.47 184.69L461.10 183.91L461.74 183.12L462.38 182.31L463.03 181.50L463.67 180.67L464.33 179.82L464.98 178.97L465.64 178.09L466.31 177.21L466.97 176.31L467.65 175.39L468.32 174.45L469.00 173.50L469.68 172.53L470.37 171.54L471.06 170.53L471.75 169.50L472.45 168.45L473.15 167.38L473.85 166.28L474.56 165.17L475.27 164.03L475.99 162.86L476.71 161.67L477.43 160.46L478.16 159.21L478.89 157.94L479.62 156.65L480.36 155.32L481.10 153.96L481.85 152.57L482.59 151.15L483.35 149.70L484.10 148.21L484.86 146.69L485.63 145.13L486.39 143.54L487.17 141.90L487.94 140.24L488.72 138.53L489.50 136.78L490.29 134.99L491.08 133.16L491.87 131.28L492.67 129.37L493.47 127.40L494.27 125.39L495.08 123.34L495.89 121.24L496.71 119.09L497.53 116.89L498.35 114.63L499.17 112.33L500.00 109.98L500.84 107.57L501.68 105.11L502.52 102.59L503.36 100.02L504.21 97.40L505.06 94.71L505.92 91.97L506.78 89.17L507.64 86.31L508.51 83.38L509.38 80.40L510.26 77.36L511.13 74.25L512.02 71.08L512.90 67.85L513.79 64.55L514.68 61.18L515.58 57.76L516.48 54.26L517.39 50.70L518.29 47.07L519.20 43.37L520.12 39.61L521.04 35.78L521.96 31.88L522.89 27.91L523.82 23.86L524.75 19.75L525.69 15.57L526.63 11.32L527.57 7.00L528.52 2.61L529.48 -1.85L530.43 -6.39L531.39 -10.99L532.35 -15.67L533.32 -20.42L534.29 -25.24L535.27 -30.13L536.24 -35.09L537.23 -40.13L538.21 -45.23L539.20 -50.41L540.19 -55.65" fill="none" stroke="#DF536B" stroke-width="2.5" stroke-linejoin="round" stroke-linecap="round" stroke-dasharray="6.75 11.25" stroke-dashoffset="0"/>
<path d="M406.71 -50.28L406.76 -36.94L406.82 -25.02L406.87 -14.29L406.93 -4.56L407.00 4.30L407.07 12.42L407.14 19.90L407.22 26.82L407.29 33.24L407.38 39.22L407.47 44.80L407.56 50.03L407.65 54.95L407.75 59.58L407.85 63.95L407.95 68.08L408.06 72.00L408.18 75.71L408.29 79.25L408.41 82.62L408.54 85.83L408.67 88.90L408.80 91.83L408.93 94.64L409.07 97.33L409.21 99.92L409.36 102.40L409.51 104.79L409.66 107.08L409.82 109.30L409.98 111.43L410.14 113.49L410.31 115.48L410.48 117.40L410.66 119.26L410.84 121.06L411.02 122.80L411.21 124.48L411.40 126.12L411.59 127.70L411.79 129.24L411.99 130.73L412.20 132.18L412.41 133.59L412.62 134.96L412.84 136.29L413.06 137.59L413.28 138.85L413.51 140.08L413.74 141.27L413.97 142.44L414.21 143.57L414.45 144.68L414.70 145.75L414.95 146.81L415.20 147.83L415.46 148.83L415.72 149.81L415.99 150.77L416.25 151.70L416.53 152.61L416.80 153.50L417.08 154.37L417.36 155.22L417.65 156.05L417.94 156.86L418.23 157.66L418.53 158.44L418.83 159.20L419.14 159.94L419.45 160.67L419.76 161.38L420.08 162.08L420.39 162.76L420.72 163.43L421.05 164.08L421.38 164.73L421.71 165.35L422.05 165.97L422.39 166.57L422.74 167.16L423.09 167.74L423.44 168.31L423.80 168.86L424.16 169.41L424.52 169.94L424.89 170.47L425.26 170.98L425.64 171.48L426.02 171.98L426.40 172.46L426.79 172.94L427.18 173.40L427.57 173.86L427.97 174.31L428.37 174.74L428.77 175.18L429.18 175.60L429.59 176.01L430.01 176.42L430.43 176.82L430.85 177.21L431.28 177.59L431.71 177.97L432.15 178.34L432.58 178.70L433.03 179.06L433.47 179.41L433.92 179.75L434.37 180.09L434.83 180.42L435.29 180.74L435.75 181.06L436.22 181.37L436.69 181.67L437.17 181.97L437.65 182.27L438.13 182.56L438.62 182.84L439.11 183.12L439.60 183.39L440.10 183.66L440.60 183.93L441.10 184.18L441.61 184.44L442.12 184.69L442.64 184.93L443.16 185.17L443.68 185.40L444.21 185.63L444.74 185.86L445.27 186.08L445.81 186.30L446.35 186.51L446.90 186.72L447.45 186.93L448.00 187.13L448.56 187.33L449.12 187.52L449.68 187.71L450.25 187.90L450.82 188.08L451.40 188.26L451.98 188.44L452.56 188.61L453.14 188.78L453.73 188.95L454.33 189.11L454.92 189.27L455.53 189.43L456.13 189.58L456.74 189.73L457.35 189.88L457.97 190.02L458.59 190.17L459.21 190.30L459.84 190.44L460.47 190.57L461.10 190.71L461.74 190.83L462.38 190.96L463.03 191.08L463.67 191.20L464.33 191.32L464.98 191.44L465.64 191.55L466.31 191.66L466.97 191.77L467.65 191.88L468.32 191.98L469.00 192.08L469.68 192.18L470.37 192.28L471.06 192.38L471.75 192.47L472.45 192.56L473.15 192.65L473.85 192.74L474.56 192.83L475.27 192.91L475.99 192.99L476.71 193.07L477.43 193.15L478.16 193.23L478.89 193.30L479.62 193.38L480.36 193.45L481.10 193.52L481.85 193.59L482.59 193.65L483.35 193.72L484.10 193.78L484.86 193.84L485.63 193.90L486.39 193.96L487.17 194.02L487.94 194.08L488.72 194.13L489.50 194.19L490.29 194.24L491.08 194.29L491.87 194.34L492.67 194.39L493.47 194.44L494.27 194.48L495.08 194.53L495.89 194.57L496.71 194.61L497.53 194.65L498.35 194.69L499.17 194.73L500.00 194.77L500.84 194.81L501.68 194.84L502.52 194.88L503.36 194.91L504.21 194.95L505.06 194.98L505.92 195.01L506.78 195.04L507.64 195.07L508.51 195.10L509.38 195.12L510.26 195.15L511.13 195.18L512.02 195.20L512.90 195.22L513.79 195.25L514.68 195.27L515.58 195.29L516.48 195.31L517.39 195.33L518.29 195.35L519.20 195.37L520.12 195.39L521.04 195.41L521.96 195.42L522.89 195.44L523.82 195.45L524.75 195.47L525.69 195.48L526.63 195.49L527.57 195.51L528.52 195.52L529.48 195.53L530.43 195.54L531.39 195.55L532.35 195.56L533.32 195.57L534.29 195.58L535.27 195.59L536.24 195.60L537.23 195.60L538.21 195.61L539.20 195.62L540.19 195.62L541.19 195.63L542.19 195.63L543.20 195.64L544.20 195.64L545.21 195.64L546.23 195.65L547.25 195.65L548.27 195.65L549.30 195.65L550.33 195.65L551.36 195.66L552.40 195.66L553.44 195.66L554.48 195.66L555.53 195.66L556.58 195.66L557.64 195.66L558.70 195.66L559.76 195.65L560.83 195.65L561.90 195.65L562.97 195.65L564.05 195.65L565.13 195.64L566.22 195.64L567.31 195.64L568.40 195.63L569.50 195.63L570.60 195.62L571.70 195.62L572.81 195.62L573.92 195.61L575.03 195.61L576.15 195.60L577.28 195.59L578.40 195.59L579.53 195.58L580.66 195.58L581.80 195.57L582.94 195.56L584.09 195.56L585.24 195.55L586.39 195.54L587.54 195.54L588.70 195.53L589.87 195.52L591.03 195.52L592.20 195.51L593.38 195.50L594.55 195.49L595.74 195.49L596.92 195.48L598.11 195.47L599.30 195.46L600.50 195.45L601.70 195.44L602.90 195.43L604.11 195.43L605.32 195.42L606.54 195.41L607.75 195.40L608.98 195.39L610.20 195.38L611.43 195.37L612.67 195.36L613.90 195.35L615.14 195.34L616.39 195.33L617.64 195.33L618.89 195.32L620.14 195.31L621.40 195.30L622.66 195.29L623.93 195.28L625.20 195.27L626.48 195.26L627.75 195.25L629.03 195.24L630.32 195.23L631.61 195.22L632.90 195.21L634.20 195.20L635.50 195.19L636.80 195.18L638.11 195.17L639.42 195.16L640.73 195.15L642.05 195.14L643.37 195.13L644.70 195.12L646.03 195.11L647.36 195.10L648.70 195.09L650.04 195.08L651.38 195.07L652.73 195.06L654.08 195.05L655.44 195.04L656.80 195.03L658.16 195.02L659.53 195.01L660.90 195.00L662.27 194.99L663.65 194.98L665.03 194.97L666.41 194.96L667.80 194.95L669.19 194.94L670.59 194.93L671.99 194.92L673.39 194.91L674.80 194.90L676.21 194.89L677.63 194.88L679.04 194.87L680.47 194.86L681.89 194.85L683.32 194.84L684.75 194.83L686.19 194.82L687.63 194.82L689.07 194.81L690.52 194.80L691.97 194.79L693.43 194.78L694.89 194.77L696.35 194.76L697.82 194.75L699.29 194.74L700.76 194.73" fill="none" stroke="#61D04F" stroke-width="2.5" stroke-linejoin="round" stroke-linecap="round" stroke-dasharray="0.009 9.0" stroke-dashoffset="-2.8"/>
<path d="M406.40 246.90L406.40 246.87L406.41 246.80L406.42 246.70L406.43 246.58L406.45 246.45L406.47 246.30L406.49 246.13L406.52 245.94L406.55 245.74L406.58 245.53L406.62 245.31L406.67 245.07L406.71 244.82L406.76 244.56L406.82 244.28L406.87 244.00L406.93 243.70L407.00 243.40L407.07 243.08L407.14 242.75L407.22 242.42L407.29 242.07L407.38 241.71L407.47 241.35L407.56 240.97L407.65 240.59L407.75 240.20L407.85 239.80L407.95 239.39L408.06 238.97L408.18 238.54L408.29 238.11L408.41 237.66L408.54 237.21L408.67 236.75L408.80 236.29L408.93 235.81L409.07 235.33L409.21 234.84L409.36 234.34L409.51 233.84L409.66 233.33L409.82 232.81L409.98 232.28L410.14 231.75L410.31 231.21L410.48 230.67L410.66 230.11L410.84 229.55L411.02 228.99L411.21 228.42L411.40 227.84L411.59 227.25L411.79 226.66L411.99 226.06L412.20 225.46L412.41 224.85L412.62 224.23L412.84 223.61L413.06 222.99L413.28 222.35L413.51 221.72L413.74 221.07L413.97 220.43L414.21 219.77L414.45 219.11L414.70 218.45L414.95 217.78L415.20 217.11L415.46 216.43L415.72 215.74L415.99 215.05L416.25 214.36L416.53 213.66L416.80 212.96L417.08 212.26L417.36 211.55L417.65 210.83L417.94 210.11L418.23 209.39L418.53 208.66L418.83 207.93L419.14 207.20L419.45 206.46L419.76 205.72L420.08 204.98L420.39 204.23L420.72 203.48L421.05 202.72L421.38 201.97L421.71 201.20L422.05 200.44L422.39 199.67L422.74 198.91L423.09 198.13L423.44 197.36L423.80 196.58L424.16 195.80L424.52 195.02L424.89 194.24L425.26 193.45L425.64 192.66L426.02 191.87L426.40 191.07L426.79 190.28L427.18 189.48L427.57 188.68L427.97 187.88L428.37 187.08L428.77 186.27L429.18 185.47L429.59 184.66L430.01 183.85L430.43 183.03L430.85 182.22L431.28 181.40L431.71 180.59L432.15 179.77L432.58 178.95L433.03 178.12L433.47 177.30L433.92 176.47L434.37 175.64L434.83 174.81L435.29 173.98L435.75 173.15L436.22 172.31L436.69 171.47L437.17 170.63L437.65 169.79L438.13 168.94L438.62 168.09L439.11 167.24L439.60 166.38L440.10 165.53L440.60 164.67L441.10 163.80L441.61 162.93L442.12 162.06L442.64 161.18L443.16 160.30L443.68 159.42L444.21 158.53L444.74 157.63L445.27 156.73L445.81 155.83L446.35 154.92L446.90 154.00L447.45 153.07L448.00 152.14L448.56 151.20L449.12 150.26L449.68 149.30L450.25 148.34L450.82 147.37L451.40 146.38L451.98 145.39L452.56 144.39L453.14 143.38L453.73 142.35L454.33 141.32L454.92 140.27L455.53 139.21L456.13 138.14L456.74 137.05L457.35 135.94L457.97 134.83L458.59 133.69L459.21 132.54L459.84 131.38L460.47 130.19L461.10 128.99L461.74 127.77L462.38 126.53L463.03 125.27L463.67 123.99L464.33 122.68L464.98 121.36L465.64 120.01L466.31 118.63L466.97 117.24L467.65 115.82L468.32 114.37L469.00 112.89L469.68 111.39L470.37 109.86L471.06 108.30L471.75 106.71L472.45 105.09L473.15 103.44L473.85 101.76L474.56 100.04L475.27 98.29L475.99 96.51L476.71 94.69L477.43 92.84L478.16 90.95L478.89 89.03L479.62 87.06L480.36 85.06L481.10 83.02L481.85 80.94L482.59 78.81L483.35 76.65L484.10 74.45L484.86 72.20L485.63 69.91L486.39 67.57L487.17 65.20L487.94 62.77L488.72 60.31L489.50 57.79L490.29 55.23L491.08 52.62L491.87 49.97L492.67 47.27L493.47 44.52L494.27 41.72L495.08 38.87L495.89 35.97L496.71 33.03L497.53 30.03L498.35 26.98L499.17 23.88L500.00 20.74L500.84 17.54L501.68 14.28L502.52 10.98L503.36 7.63L504.21 4.22L505.06 0.76L505.92 -2.75L506.78 -6.31L507.64 -9.92L508.51 -13.59L509.38 -17.31L510.26 -21.08L511.13 -24.90L512.02 -28.78L512.90 -32.70L513.79 -36.68L514.68 -40.71L515.58 -44.79L516.48 -48.93L517.39 -53.11L518.29 -57.34" fill="none" stroke="#2297E6" stroke-width="2.5" stroke-linejoin="round" stroke-linecap="round" stroke-dasharray="0.009 9.0 6.75 9.0" stroke-dashoffset="0"/>
<path d="M406.40 246.90L406.40 246.90L406.41 246.90L406.42 246.89L406.43 246.88L406.45 246.88L406.47 246.86L406.49 246.85L406.52 246.84L406.55 246.82L406.58 246.80L406.62 246.78L406.67 246.76L406.71 246.73L406.76 246.71L406.82 246.68L406.87 246.65L406.93 246.62L407.00 246.58L407.07 246.55L407.14 246.51L407.22 246.47L407.29 246.42L407.38 246.38L407.47 246.33L407.56 246.29L407.65 246.24L407.75 246.18L407.85 246.13L407.95 246.07L408.06 246.02L408.18 245.96L408.29 245.89L408.41 245.83L408.54 245.77L408.67 245.70L408.80 245.63L408.93 245.56L409.07 245.48L409.21 245.41L409.36 245.33L409.51 245.25L409.66 245.17L409.82 245.09L409.98 245.00L410.14 244.91L410.31 244.82L410.48 244.73L410.66 244.64L410.84 244.54L411.02 244.45L411.21 244.35L411.40 244.25L411.59 244.14L411.79 244.04L411.99 243.93L412.20 243.82L412.41 243.71L412.62 243.60L412.84 243.49L413.06 243.37L413.28 243.25L413.51 243.13L413.74 243.01L413.97 242.89L414.21 242.76L414.45 242.63L414.70 242.50L414.95 242.37L415.20 242.24L415.46 242.10L415.72 241.96L415.99 241.83L416.25 241.68L416.53 241.54L416.80 241.40L417.08 241.25L417.36 241.10L417.65 240.95L417.94 240.80L418.23 240.64L418.53 240.49L418.83 240.33L419.14 240.17L419.45 240.01L419.76 239.85L420.08 239.68L420.39 239.51L420.72 239.34L421.05 239.17L421.38 239.00L421.71 238.83L422.05 238.65L422.39 238.47L422.74 238.29L423.09 238.11L423.44 237.93L423.80 237.74L424.16 237.56L424.52 237.37L424.89 237.18L425.26 236.99L425.64 236.79L426.02 236.60L426.40 236.40L426.79 236.20L427.18 236.00L427.57 235.80L427.97 235.60L428.37 235.39L428.77 235.19L429.18 234.98L429.59 234.77L430.01 234.55L430.43 234.34L430.85 234.12L431.28 233.91L431.71 233.69L432.15 233.47L432.58 233.25L433.03 233.02L433.47 232.80L433.92 232.57L434.37 232.34L434.83 232.11L435.29 231.88L435.75 231.65L436.22 231.41L436.69 231.18L437.17 230.94L437.65 230.70L438.13 230.45L438.62 230.21L439.11 229.97L439.60 229.72L440.10 229.47L440.60 229.22L441.10 228.97L441.61 228.71L442.12 228.46L442.64 228.20L443.16 227.94L443.68 227.68L444.21 227.42L444.74 227.15L445.27 226.88L445.81 226.61L446.35 226.34L446.90 226.07L447.45 225.79L448.00 225.52L448.56 225.24L449.12 224.95L449.68 224.67L450.25 224.38L450.82 224.09L451.40 223.80L451.98 223.50L452.56 223.21L453.14 222.91L453.73 222.60L454.33 222.30L454.92 221.99L455.53 221.68L456.13 221.36L456.74 221.04L457.35 220.72L457.97 220.39L458.59 220.06L459.21 219.73L459.84 219.39L460.47 219.05L461.10 218.70L461.74 218.35L462.38 218.00L463.03 217.64L463.67 217.27L464.33 216.91L464.98 216.53L465.64 216.15L466.31 215.76L466.97 215.37L467.65 214.97L468.32 214.57L469.00 214.16L469.68 213.74L470.37 213.32L471.06 212.89L471.75 212.45L472.45 212.00L473.15 211.55L473.85 211.08L474.56 210.61L475.27 210.13L475.99 209.64L476.71 209.14L477.43 208.63L478.16 208.11L478.89 207.58L479.62 207.04L480.36 206.49L481.10 205.93L481.85 205.35L482.59 204.76L483.35 204.16L484.10 203.55L484.86 202.92L485.63 202.28L486.39 201.63L487.17 200.95L487.94 200.27L488.72 199.57L489.50 198.85L490.29 198.11L491.08 197.36L491.87 196.59L492.67 195.80L493.47 195.00L494.27 194.17L495.08 193.33L495.89 192.46L496.71 191.58L497.53 190.67L498.35 189.74L499.17 188.79L500.00 187.81L500.84 186.81L501.68 185.79L502.52 184.75L503.36 183.67L504.21 182.58L505.06 181.45L505.92 180.30L506.78 179.12L507.64 177.91L508.51 176.68L509.38 175.41L510.26 174.12L511.13 172.79L512.02 171.44L512.90 170.05L513.79 168.63L514.68 167.17L515.58 165.69L516.48 164.17L517.39 162.61L518.29 161.02L519.20 159.39L520.12 157.73L521.04 156.03L521.96 154.29L522.89 152.51L523.82 150.70L524.75 148.84L525.69 146.95L526.63 145.01L527.57 143.04L528.52 141.02L529.48 138.96L530.43 136.86L531.39 134.71L532.35 132.53L533.32 130.29L534.29 128.02L535.27 125.70L536.24 123.33L537.23 120.92L538.21 118.46L539.20 115.95L540.19 113.40L541.19 110.80L542.19 108.15L543.20 105.46L544.20 102.72L545.21 99.92L546.23 97.08L547.25 94.19L548.27 91.25L549.30 88.26L550.33 85.22L551.36 82.13L552.40 78.99L553.44 75.80L554.48 72.56L555.53 69.27L556.58 65.92L557.64 62.53L558.70 59.08L559.76 55.59L560.83 52.04L561.90 48.44L562.97 44.78L564.05 41.08L565.13 37.32L566.22 33.51L567.31 29.66L568.40 25.74L569.50 21.78L570.60 17.77L571.70 13.70L572.81 9.59L573.92 5.42L575.03 1.20L576.15 -3.07L577.28 -7.39L578.40 -11.76L579.53 -16.18L580.66 -20.65L581.80 -25.17L582.94 -29.74L584.09 -34.37L585.24 -39.04L586.39 -43.75L587.54 -48.52L588.70 -53.34L589.87 -58.20" fill="none" stroke="#28E2E5" stroke-width="2.5" stroke-linejoin="round" stroke-linecap="round" stroke-dasharray="13.5 9.0" stroke-dashoffset="0"/>
</g>
<rect x="34.75" y="0.4" width="288.75" height="256.1" stroke="#000" stroke-width="1.1" fill="none"/>
<rect x="395.5" y="0.4" width="289.0" height="256.1" stroke="#000" stroke-width="1.1" fill="none"/>
<path d="M45.30 256.5V262.0" stroke="#000" stroke-width="1.1" fill="none"/>
<text transform="translate(45.30 276.20) scale(0.0960 0.1000)" font-family="Liberation Sans, sans-serif" font-size="97.0px" text-anchor="middle" fill="#000" font-weight="bold" font-style="italic" stroke="#000" stroke-width="4.8">0</text>
<path d="M98.85 256.5V262.0" stroke="#000" stroke-width="1.1" fill="none"/>
<text transform="translate(98.85 276.20) scale(0.0960 0.1000)" font-family="Liberation Sans, sans-serif" font-size="97.0px" text-anchor="middle" fill="#000" font-weight="bold" font-style="italic" stroke="#000" stroke-width="4.8">1</text>
<path d="M152.40 256.5V262.0" stroke="#000" stroke-width="1.1" fill="none"/>
<text transform="translate(152.40 276.20) scale(0.0960 0.1000)" font-family="Liberation Sans, sans-serif" font-size="97.0px" text-anchor="middle" fill="#000" font-weight="bold" font-style="italic" stroke="#000" stroke-width="4.8">2</text>
<path d="M205.95 256.5V262.0" stroke="#000" stroke-width="1.1" fill="none"/>
<text transform="translate(205.95 276.20) scale(0.0960 0.1000)" font-family="Liberation Sans, sans-serif" font-size="97.0px" text-anchor="middle" fill="#000" font-weight="bold" font-style="italic" stroke="#000" stroke-width="4.8">3</text>
<path d="M259.50 256.5V262.0" stroke="#000" stroke-width="1.1" fill="none"/>
<text transform="translate(259.50 276.20) scale(0.0960 0.1000)" font-family="Liberation Sans, sans-serif" font-size="97.0px" text-anchor="middle" fill="#000" font-weight="bold" font-style="italic" stroke="#000" stroke-width="4.8">4</text>
<path d="M313.05 256.5V262.0" stroke="#000" stroke-width="1.1" fill="none"/>
<text transform="translate(313.05 276.20) scale(0.0960 0.1000)" font-family="Liberation Sans, sans-serif" font-size="97.0px" text-anchor="middle" fill="#000" font-weight="bold" font-style="italic" stroke="#000" stroke-width="4.8">5</text>
<path d="M34.75 246.90H29.25" stroke="#000" stroke-width="1.1" fill="none"/>
<text transform="translate(21.60 246.90) rotate(-90) scale(0.0960 0.1000)" font-family="Liberation Sans, sans-serif" font-size="97.0px" text-anchor="middle" fill="#000" font-weight="bold" font-style="italic" stroke="#000" stroke-width="4.8">0.0</text>
<path d="M34.75 187.60H29.25" stroke="#000" stroke-width="1.1" fill="none"/>
<text transform="translate(21.60 187.60) rotate(-90) scale(0.0960 0.1000)" font-family="Liberation Sans, sans-serif" font-size="97.0px" text-anchor="middle" fill="#000" font-weight="bold" font-style="italic" stroke="#000" stroke-width="4.8">0.2</text>
<path d="M34.75 128.30H29.25" stroke="#000" stroke-width="1.1" fill="none"/>
<text transform="translate(21.60 128.30) rotate(-90) scale(0.0960 0.1000)" font-family="Liberation Sans, sans-serif" font-size="97.0px" text-anchor="middle" fill="#000" font-weight="bold" font-style="italic" stroke="#000" stroke-width="4.8">0.4</text>
<path d="M34.75 69.00H29.25" stroke="#000" stroke-width="1.1" fill="none"/>
<text transform="translate(21.60 69.00) rotate(-90) scale(0.0960 0.1000)" font-family="Liberation Sans, sans-serif" font-size="97.0px" text-anchor="middle" fill="#000" font-weight="bold" font-style="italic" stroke="#000" stroke-width="4.8">0.6</text>
<path d="M34.75 9.70H29.25" stroke="#000" stroke-width="1.1" fill="none"/>
<text transform="translate(21.60 9.70) rotate(-90) scale(0.0960 0.1000)" font-family="Liberation Sans, sans-serif" font-size="97.0px" text-anchor="middle" fill="#000" font-weight="bold" font-style="italic" stroke="#000" stroke-width="4.8">0.8</text>
<path d="M406.40 256.5V262.0" stroke="#000" stroke-width="1.1" fill="none"/>
<text transform="translate(406.40 276.20) scale(0.0960 0.1000)" font-family="Liberation Sans, sans-serif" font-size="97.0px" text-anchor="middle" fill="#000" font-weight="bold" font-style="italic" stroke="#000" stroke-width="4.8">0.0</text>
<path d="M451.00 256.5V262.0" stroke="#000" stroke-width="1.1" fill="none"/>
<text transform="translate(451.00 276.20) scale(0.0960 0.1000)" font-family="Liberation Sans, sans-serif" font-size="97.0px" text-anchor="middle" fill="#000" font-weight="bold" font-style="italic" stroke="#000" stroke-width="4.8">0.5</text>
<path d="M495.60 256.5V262.0" stroke="#000" stroke-width="1.1" fill="none"/>
<text transform="translate(495.60 276.20) scale(0.0960 0.1000)" font-family="Liberation Sans, sans-serif" font-size="97.0px" text-anchor="middle" fill="#000" font-weight="bold" font-style="italic" stroke="#000" stroke-width="4.8">1.0</text>
<path d="M540.20 256.5V262.0" stroke="#000" stroke-width="1.1" fill="none"/>
<text transform="translate(540.20 276.20) scale(0.0960 0.1000)" font-family="Liberation Sans, sans-serif" font-size="97.0px" text-anchor="middle" fill="#000" font-weight="bold" font-style="italic" stroke="#000" stroke-width="4.8">1.5</text>
<path d="M584.80 256.5V262.0" stroke="#000" stroke-width="1.1" fill="none"/>
<text transform="translate(584.80 276.20) scale(0.0960 0.1000)" font-family="Liberation Sans, sans-serif" font-size="97.0px" text-anchor="middle" fill="#000" font-weight="bold" font-style="italic" stroke="#000" stroke-width="4.8">2.0</text>
<path d="M629.40 256.5V262.0" stroke="#000" stroke-width="1.1" fill="none"/>
<text transform="translate(629.40 276.20) scale(0.0960 0.1000)" font-family="Liberation Sans, sans-serif" font-size="97.0px" text-anchor="middle" fill="#000" font-weight="bold" font-style="italic" stroke="#000" stroke-width="4.8">2.5</text>
<path d="M674.00 256.5V262.0" stroke="#000" stroke-width="1.1" fill="none"/>
<text transform="translate(674.00 276.20) scale(0.0960 0.1000)" font-family="Liberation Sans, sans-serif" font-size="97.0px" text-anchor="middle" fill="#000" font-weight="bold" font-style="italic" stroke="#000" stroke-width="4.8">3.0</text>
<path d="M395.5 246.90H390.0" stroke="#000" stroke-width="1.1" fill="none"/>
<text transform="translate(382.35 246.90) rotate(-90) scale(0.0960 0.1000)" font-family="Liberation Sans, sans-serif" font-size="97.0px" text-anchor="middle" fill="#000" font-weight="bold" font-style="italic" stroke="#000" stroke-width="4.8">0.0</text>
<path d="M395.5 199.54H390.0" stroke="#000" stroke-width="1.1" fill="none"/>
<text transform="translate(382.35 199.54) rotate(-90) scale(0.0960 0.1000)" font-family="Liberation Sans, sans-serif" font-size="97.0px" text-anchor="middle" fill="#000" font-weight="bold" font-style="italic" stroke="#000" stroke-width="4.8">0.2</text>
<path d="M395.5 152.18H390.0" stroke="#000" stroke-width="1.1" fill="none"/>
<text transform="translate(382.35 152.18) rotate(-90) scale(0.0960 0.1000)" font-family="Liberation Sans, sans-serif" font-size="97.0px" text-anchor="middle" fill="#000" font-weight="bold" font-style="italic" stroke="#000" stroke-width="4.8">0.4</text>
<path d="M395.5 104.82H390.0" stroke="#000" stroke-width="1.1" fill="none"/>
<text transform="translate(382.35 104.82) rotate(-90) scale(0.0960 0.1000)" font-family="Liberation Sans, sans-serif" font-size="97.0px" text-anchor="middle" fill="#000" font-weight="bold" font-style="italic" stroke="#000" stroke-width="4.8">0.6</text>
<path d="M395.5 57.46H390.0" stroke="#000" stroke-width="1.1" fill="none"/>
<text transform="translate(382.35 57.46) rotate(-90) scale(0.0960 0.1000)" font-family="Liberation Sans, sans-serif" font-size="97.0px" text-anchor="middle" fill="#000" font-weight="bold" font-style="italic" stroke="#000" stroke-width="4.8">0.8</text>
<path d="M395.5 10.10H390.0" stroke="#000" stroke-width="1.1" fill="none"/>
<text transform="translate(382.35 10.10) rotate(-90) scale(0.0960 0.1000)" font-family="Liberation Sans, sans-serif" font-size="97.0px" text-anchor="middle" fill="#000" font-weight="bold" font-style="italic" stroke="#000" stroke-width="4.8">1.0</text>
<text transform="translate(179.12 292.20) scale(0.1000 0.1000)" font-family="Liberation Sans, sans-serif" font-size="82.0px" text-anchor="middle" fill="#000" font-weight="bold" font-style="italic" stroke="#000" stroke-width="2.5">z</text>
<text transform="translate(540.00 292.20) scale(0.1000 0.1000)" font-family="Liberation Sans, sans-serif" font-size="82.0px" text-anchor="middle" fill="#000" font-weight="bold" font-style="italic" stroke="#000" stroke-width="2.5">z</text>
<text transform="translate(4.90 128.45) rotate(-90) scale(0.1000 0.1000)" font-family="Liberation Sans, sans-serif" font-size="75.0px" text-anchor="middle" fill="#000" font-weight="bold" stroke="#000" stroke-width="2.5">g(<tspan font-style="italic">z</tspan>)</text>
<text transform="translate(365.65 128.45) rotate(-90) scale(0.1000 0.1000)" font-family="Liberation Sans, sans-serif" font-size="75.0px" text-anchor="middle" fill="#000" font-weight="bold" stroke="#000" stroke-width="2.5">h(<tspan font-style="italic">z</tspan>)</text>
<rect x="205.8" y="9.6" width="95.69999999999999" height="64.9" fill="#fff" stroke="#000" stroke-width="0.75"/>
<path d="M214.1 20.90H229.85" stroke="#000000" stroke-width="2.3" fill="none" stroke-linecap="round"/>
<text transform="translate(238.60 23.40) scale(0.1000 0.1000)" font-family="Liberation Sans, sans-serif" font-size="88.0px" text-anchor="start" fill="#000" ><tspan x="0.0">α</tspan><tspan x="69.0">=</tspan><tspan x="146.0">1.5</tspan><tspan x="312.0">β</tspan><tspan x="381.0">=</tspan><tspan x="456.0">0.6</tspan></text>
<path d="M214.1 31.65H229.85" stroke="#DF536B" stroke-width="2.3" fill="none" stroke-linecap="round" stroke-dasharray="6.75 11.25"/>
<text transform="translate(238.60 34.15) scale(0.1000 0.1000)" font-family="Liberation Sans, sans-serif" font-size="88.0px" text-anchor="start" fill="#000" ><tspan x="0.0">α</tspan><tspan x="69.0">=</tspan><tspan x="146.0">2.0</tspan><tspan x="312.0">β</tspan><tspan x="381.0">=</tspan><tspan x="456.0">0.8</tspan></text>
<path d="M214.1 42.40H229.85" stroke="#61D04F" stroke-width="2.3" fill="none" stroke-linecap="round" stroke-dasharray="0.009 9.0"/>
<text transform="translate(238.60 44.90) scale(0.1000 0.1000)" font-family="Liberation Sans, sans-serif" font-size="88.0px" text-anchor="start" fill="#000" ><tspan x="0.0">α</tspan><tspan x="69.0">=</tspan><tspan x="146.0">0.7</tspan><tspan x="312.0">β</tspan><tspan x="381.0">=</tspan><tspan x="456.0">1.0</tspan></text>
<path d="M214.1 53.15H229.85" stroke="#2297E6" stroke-width="2.3" fill="none" stroke-linecap="round" stroke-dasharray="0.009 9.0 6.75 9.0"/>
<text transform="translate(238.60 55.65) scale(0.1000 0.1000)" font-family="Liberation Sans, sans-serif" font-size="88.0px" text-anchor="start" fill="#000" ><tspan x="0.0">α</tspan><tspan x="69.0">=</tspan><tspan x="146.0">1.8</tspan><tspan x="312.0">β</tspan><tspan x="381.0">=</tspan><tspan x="456.0">1.2</tspan></text>
<path d="M214.1 63.90H229.85" stroke="#28E2E5" stroke-width="2.3" fill="none" stroke-linecap="round" stroke-dasharray="13.5 9.0"/>
<text transform="translate(238.60 66.40) scale(0.1000 0.1000)" font-family="Liberation Sans, sans-serif" font-size="88.0px" text-anchor="start" fill="#000" ><tspan x="0.0">α</tspan><tspan x="69.0">=</tspan><tspan x="146.0">2.0</tspan><tspan x="312.0">β</tspan><tspan x="381.0">=</tspan><tspan x="456.0">0.5</tspan></text>
<rect x="585.0" y="57.9" width="99.5" height="63.9" fill="#fff" stroke="#000" stroke-width="0.75"/>
<path d="M593.1 68.20H608.85" stroke="#000000" stroke-width="2.3" fill="none" stroke-linecap="round"/>
<text transform="translate(617.30 70.70) scale(0.1000 0.1000)" font-family="Liberation Sans, sans-serif" font-size="88.0px" text-anchor="start" fill="#000" ><tspan x="0.0">α</tspan><tspan x="69.0">=</tspan><tspan x="146.0">0.95</tspan><tspan x="356.0">β</tspan><tspan x="425.0">=</tspan><tspan x="500.0">1.8</tspan></text>
<path d="M593.1 78.95H608.85" stroke="#DF536B" stroke-width="2.3" fill="none" stroke-linecap="round" stroke-dasharray="6.75 11.25"/>
<text transform="translate(617.30 81.45) scale(0.1000 0.1000)" font-family="Liberation Sans, sans-serif" font-size="88.0px" text-anchor="start" fill="#000" ><tspan x="0.0">α</tspan><tspan x="69.0">=</tspan><tspan x="146.0">2.0</tspan><tspan x="312.0">β</tspan><tspan x="381.0">=</tspan><tspan x="456.0">0.8</tspan></text>
<path d="M593.1 89.70H608.85" stroke="#61D04F" stroke-width="2.3" fill="none" stroke-linecap="round" stroke-dasharray="0.009 9.0"/>
<text transform="translate(617.30 92.20) scale(0.1000 0.1000)" font-family="Liberation Sans, sans-serif" font-size="88.0px" text-anchor="start" fill="#000" ><tspan x="0.0">α</tspan><tspan x="69.0">=</tspan><tspan x="146.0">0.7</tspan><tspan x="312.0">β</tspan><tspan x="381.0">=</tspan><tspan x="456.0">1.0</tspan></text>
<path d="M593.1 100.45H608.85" stroke="#2297E6" stroke-width="2.3" fill="none" stroke-linecap="round" stroke-dasharray="0.009 9.0 6.75 9.0"/>
<text transform="translate(617.30 102.95) scale(0.1000 0.1000)" font-family="Liberation Sans, sans-serif" font-size="88.0px" text-anchor="start" fill="#000" ><tspan x="0.0">α</tspan><tspan x="69.0">=</tspan><tspan x="146.0">1.8</tspan><tspan x="312.0">β</tspan><tspan x="381.0">=</tspan><tspan x="456.0">1.2</tspan></text>
<path d="M593.1 111.20H608.85" stroke="#28E2E5" stroke-width="2.3" fill="none" stroke-linecap="round" stroke-dasharray="13.5 9.0"/>
<text transform="translate(617.30 113.70) scale(0.1000 0.1000)" font-family="Liberation Sans, sans-serif" font-size="88.0px" text-anchor="start" fill="#000" ><tspan x="0.0">α</tspan><tspan x="69.0">=</tspan><tspan x="146.0">2.0</tspan><tspan x="312.0">β</tspan><tspan x="381.0">=</tspan><tspan x="456.0">0.5</tspan></text>
</svg>
</body></html>
